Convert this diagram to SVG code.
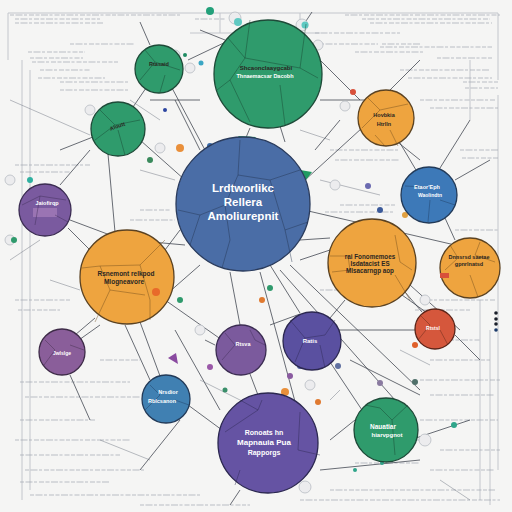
<svg xmlns="http://www.w3.org/2000/svg" width="512" height="512" viewBox="0 0 512 512">
<style>
.bgt{stroke:#a3a8b0;stroke-width:1.2;stroke-dasharray:4 1.5 7 1.5 3 2 5 1.5;fill:none;opacity:.7}
.frame{stroke:#c3c6cc;stroke-width:1;fill:none}
.edge{stroke:#3b404b;stroke-width:.9;fill:none;opacity:.85}
.edge2{stroke:#6e7480;stroke-width:.8;fill:none;opacity:.6}
.n{stroke-width:1.3}
.crack{fill:none;stroke-width:.8;opacity:.55}
.lbw{font-family:"Liberation Sans",Arial,sans-serif;fill:#ffffff;text-anchor:middle;font-weight:bold}
.lbd{font-family:"Liberation Sans",Arial,sans-serif;fill:#2a2622;text-anchor:middle;font-weight:bold}
.bub{fill:#ececee;stroke:#b8bcc3;stroke-width:.8}
</style>
<rect width="512" height="512" fill="#f5f5f4"/>
<g id="frame">
<path class="frame" d="M8 13H498V80M498 95V470M22 60V500M30 70V490M8 13V60M470 60V120M480 300V500M490 330V505M190 33H320M300 33V13M220 33V13"/>
</g>
<g id="bg-text">
<path class="bgt" d="M10 15H180M15 19H100M15 23H103M195 19H225M345 15H500M362 19H490M370 23H492M315 33H400M70 44H135M320 44H378M382 44H420M28 52H85M355 52H425M380 47H492M30 58H83M32 62H118M437 58H492M40 70H90M400 70H490M38 78H105M408 78H492M60 82H128M60 90H128M463 82H498M465 88H498M420 100H495M430 108H498M15 165H90M20 172H70M460 150H498M462 158H498M455 230H498M330 150H400M335 160H400M340 205H395M325 212H395M140 210H170M130 220H175M420 300H495M415 310H470M430 340H480M20 382H130M25 397H140M20 420H95M15 440H130M20 455H120M25 470H145M20 482H110M30 495H200M420 380H500M430 395H495M420 420H498M440 450H500M430 470H495M330 490H495M300 500H500M140 505H250M355 463H420M390 440H430M15 300H70M18 310H60M100 360H140M320 290H360M430 360H490"/>
</g>
<g id="connectors">
<path class="edge" d="M159 69L118 129M172 88L205 150M140 140L185 180M108 154L115 232M180 230L165 250M68 228L92 252M95 318L75 335M165 300L222 340M140 322L160 376M230 272L240 325M270 265L300 313M305 180L362 128M400 143L416 170M300 240L330 238M405 292L422 312M345 300L330 318M445 218L455 240M330 362L362 410M250 374L258 395M188 405L222 430M188 60L230 40M300 30L312 12M225 40L200 30M150 45L140 22M175 100L200 150M200 100L150 100M136 120L60 150M60 185L90 150M250 128L245 140M280 126L285 142M320 100L365 100M315 150L340 120M304 210L455 245M280 270L395 400M290 265L420 390M260 272L300 420M200 265L160 300M150 250L70 220M185 245L130 240M330 250L300 260M410 285L460 330M395 290L430 315M350 360L420 395M330 330L420 330M270 325L300 314M205 340L215 345M175 330L220 410M100 325L62 352M125 325L150 380M70 375L90 420M180 420L140 470M240 490L230 505M320 470L420 460M355 420L330 440M410 440L470 420M455 335L480 360M420 160L395 140M455 180L490 160M440 168L470 120M390 90L420 60M360 100L320 60"/>
<path class="edge2" d="M10 100L90 135M40 240L10 260M175 180L140 170M320 180L380 195M300 130L330 140M160 120L130 100M50 280L80 290M200 380L240 400M340 390L330 400M400 350L430 365M440 480L470 500M100 440L150 460"/>
</g>
<g id="decor">
<circle class="bub" cx="235" cy="18" r="6"/>
<circle class="bub" cx="302" cy="25" r="6"/>
<circle class="bub" cx="175" cy="55" r="5"/>
<circle class="bub" cx="318" cy="45" r="5"/>
<circle class="bub" cx="345" cy="106" r="5"/>
<circle class="bub" cx="190" cy="68" r="5"/>
<circle class="bub" cx="90" cy="110" r="5"/>
<circle class="bub" cx="10" cy="180" r="5"/>
<circle class="bub" cx="10" cy="240" r="5"/>
<circle class="bub" cx="160" cy="148" r="5"/>
<circle class="bub" cx="335" cy="185" r="5"/>
<circle class="bub" cx="425" cy="300" r="5"/>
<circle class="bub" cx="200" cy="330" r="5"/>
<circle class="bub" cx="305" cy="487" r="6"/>
<circle class="bub" cx="378" cy="300" r="5"/>
<circle class="bub" cx="425" cy="440" r="6"/>
<circle class="bub" cx="310" cy="385" r="5"/>
<circle cx="210" cy="11" r="4" fill="#23a07a"/>
<circle cx="238" cy="22" r="4" fill="#5fc9c2"/>
<circle cx="305" cy="25" r="3.5" fill="#5fc9c2"/>
<circle cx="185" cy="55" r="2" fill="#1e8c62"/>
<circle cx="201" cy="63" r="2.5" fill="#3aa6c4"/>
<circle cx="165" cy="110" r="2" fill="#2b44a0"/>
<circle cx="180" cy="148" r="4" fill="#e98f3a"/>
<path d="M238 136L256 137L248 148Z" fill="#1f9a62"/>
<path d="M300 170L312 172L306 180Z" fill="#1f9a62"/>
<circle cx="210" cy="146" r="3" fill="#3b6aa8"/>
<circle cx="353" cy="92" r="3" fill="#d8503a"/>
<circle cx="150" cy="160" r="3" fill="#3a8a5c"/>
<circle cx="368" cy="186" r="3" fill="#6b6ab0"/>
<circle cx="380" cy="210" r="3" fill="#3b5a9a"/>
<circle cx="405" cy="215" r="3" fill="#e0a040"/>
<circle cx="262" cy="300" r="3" fill="#e07a30"/>
<circle cx="270" cy="288" r="3" fill="#2f9a6c"/>
<circle cx="180" cy="300" r="3" fill="#2f9a6c"/>
<circle cx="30" cy="180" r="3" fill="#2fb0a0"/>
<circle cx="14" cy="240" r="3" fill="#2f9a6c"/>
<circle cx="225" cy="390" r="2.5" fill="#3a8f6a"/>
<circle cx="210" cy="367" r="3" fill="#9a58a8"/>
<path d="M168 358L176 353L178 364Z" fill="#8a4aa0"/>
<circle cx="290" cy="376" r="3" fill="#8a5aa0"/>
<circle cx="300" cy="366" r="3" fill="#4a5a9a"/>
<circle cx="285" cy="392" r="4" fill="#e98f3a"/>
<circle cx="318" cy="402" r="3" fill="#e07a30"/>
<circle cx="338" cy="366" r="3" fill="#6070a0"/>
<circle cx="380" cy="383" r="3" fill="#8a7aa0"/>
<circle cx="415" cy="382" r="3" fill="#50706a"/>
<circle cx="454" cy="425" r="3" fill="#2fa58a"/>
<circle cx="382" cy="463" r="2" fill="#2fa58a"/>
<circle cx="496" cy="313" r="1.8" fill="#1a1f2a"/>
<circle cx="496" cy="319" r="1.8" fill="#1a1f2a"/>
<circle cx="496" cy="324" r="1.8" fill="#1a1f2a"/>
<circle cx="496" cy="330" r="1.8" fill="#1a3a6a"/>
<circle cx="415" cy="345" r="3" fill="#e0602a"/>
<circle cx="300" cy="210" r="3" fill="#3b6aa8"/>
<circle cx="355" cy="470" r="2" fill="#2fa58a"/>
</g>
<g id="n-center">
<circle class="n" cx="243" cy="204" r="67" fill="#4a6da6" stroke="#2a3b5c"/>
<path class="crack" stroke="#22324f" d="M240 140L238 175L225 205L200 215L178 210M238 175L270 180L300 170M225 205L230 240L222 268M270 180L285 230L292 262M285 230L308 222M200 215L190 245"/>
<text class="lbw" x="243" y="192" font-size="11.5" font-weight="600">Lrdtworlikc</text>
<text class="lbw" x="243" y="206" font-size="11.5" font-weight="600">Rellera</text>
<text class="lbw" x="243" y="220" font-size="11.5" font-weight="600">Amoliurepnit</text>
</g>
<g id="n-green-top">
<circle class="n" cx="268" cy="74" r="54" fill="#2f9b6c" stroke="#1e4a38"/>
<path class="crack" stroke="#17402f" d="M228 38L245 58L230 80L217 90M245 58L300 68L318 78M300 68L306 24M245 58L250 20M280 85L285 125M230 80L250 122"/>
<text class="lbd" x="266" y="70" font-size="6">Shcaonclaaygcabi</text>
<text class="lbw" x="265" y="78" font-size="5.5">Thnaemacsar Dacobh</text>
</g>
<g id="n-green-small">
<circle class="n" cx="159" cy="69" r="24" fill="#2f9b6c" stroke="#1e4a38"/>
<path class="crack" stroke="#17402f" d="M145 50L155 62L140 80M155 62L180 70M165 75L160 92"/>
<text class="lbd" x="159" y="66" font-size="5.5">Rtasaid</text>
</g>
<g id="n-green-left">
<circle class="n" cx="118" cy="129" r="27" fill="#2f9b6c" stroke="#1e4a38"/>
<path class="crack" stroke="#17402f" d="M100 110L115 125L95 140M115 125L140 120M118 130L125 155"/>
<text class="lbd" x="118" y="128" font-size="5.5" transform="rotate(-20 118 128)">Aloutt</text>
</g>
<g id="n-orange-tr">
<circle class="n" cx="386" cy="118" r="28" fill="#eea43f" stroke="#5b4221"/>
<path class="crack" stroke="#6b4a1c" d="M368 98L380 110L362 128M380 110L408 104M390 130L398 146M375 135L385 146"/>
<text class="lbd" x="384" y="117" font-size="5.5">Hovbkia</text>
<text class="lbd" x="384" y="126" font-size="5.5">Htrlln</text>
</g>
<g id="n-blue-right">
<circle class="n" cx="429" cy="195" r="28" fill="#3d79b8" stroke="#223a58"/>
<path class="crack" stroke="#1f3c60" d="M405 186L425 187M440 200L455 205M430 200L428 222"/>
<text class="lbw" x="427" y="189" font-size="5.5">Etaor'Eph</text>
<text class="lbw" x="430" y="197" font-size="5">Waolindtn</text>
</g>
<g id="n-purple-left">
<circle class="n" cx="45" cy="210" r="26" fill="#7a5a9f" stroke="#3b2c52"/>
<rect x="33" y="208" width="24" height="9" fill="#a27ab8" opacity=".8"/>
<path class="crack" stroke="#3b2c52" d="M22 205L40 196L66 200M40 196L35 225M55 215L68 222"/>
<text class="lbw" x="47" y="205" font-size="5.5">Jaiofirqp</text>
</g>
<g id="n-orange-left">
<circle class="n" cx="127" cy="277" r="47" fill="#eea43f" stroke="#5b4221"/>
<path class="crack" stroke="#6b4a1c" d="M82 268L100 266L110 290L95 322M100 266L140 265L160 245L165 240M140 265L150 300L150 320M110 290L145 295"/>
<circle cx="156" cy="292" r="4" fill="#e86a2a"/>
<text class="lbd" x="126" y="276" font-size="6.5">Rsnemont relkpod</text>
<text class="lbd" x="124" y="284" font-size="6.5">Mlogneavore</text>
</g>
<g id="n-orange-right">
<circle class="n" cx="372" cy="263" r="44" fill="#eea43f" stroke="#5b4221"/>
<path class="crack" stroke="#6b4a1c" d="M330 256L348 256L350 270L332 272M395 235L400 262L412 270M395 275L410 300"/>
<text class="lbd" x="370" y="259" font-size="6.3">rai Fonomemoes</text>
<text class="lbd" x="370" y="266" font-size="6.3">Isdatacist ES</text>
<text class="lbd" x="370" y="273" font-size="6.3">Mlsacarngp aop</text>
</g>
<g id="n-orange-far">
<circle class="n" cx="470" cy="268" r="30" fill="#eea43f" stroke="#5b4221"/>
<path class="crack" stroke="#6b4a1c" d="M450 245L458 258L445 270M480 242L475 255L495 262M470 275L478 297"/>
<rect x="440" y="273" width="9" height="5" fill="#d8503a"/>
<text class="lbd" x="469" y="259" font-size="5.5">Dnnsrsd saetae</text>
<text class="lbd" x="469" y="266" font-size="5.5">gpnrlnatsd</text>
</g>
<g id="n-purple-small">
<circle class="n" cx="62" cy="352" r="23" fill="#8a5e9a" stroke="#3e2b48"/>
<path class="crack" stroke="#3e2b48" d="M45 340L55 350L44 365M70 345L84 350"/>
<text class="lbw" x="62" y="355" font-size="5">Jwlslge</text>
</g>
<g id="n-purple-mid">
<circle class="n" cx="241" cy="350" r="25" fill="#7b5a9d" stroke="#3b2c52"/>
<path class="crack" stroke="#3b2c52" d="M225 333L235 345L222 360M250 330L255 340L265 345"/>
<text class="lbw" x="243" y="346" font-size="5.5">Rtsva</text>
</g>
<g id="n-indigo">
<circle class="n" cx="312" cy="341" r="29" fill="#5a50a0" stroke="#2b2750"/>
<path class="crack" stroke="#2b2750" d="M290 320L305 338L295 362M305 338L325 335L335 320M320 345L325 368"/>
<text class="lbw" x="310" y="343" font-size="6">Ratis</text>
</g>
<g id="n-red">
<circle class="n" cx="435" cy="329" r="20" fill="#d5573c" stroke="#5a2418"/>
<path class="crack" stroke="#5a2418" d="M420 315L430 325L418 340M440 330L448 345"/>
<text class="lbw" x="433" y="330" font-size="5">Rtstsl</text>
</g>
<g id="n-blue-small">
<circle class="n" cx="166" cy="399" r="24" fill="#4080b2" stroke="#223a58"/>
<path class="crack" stroke="#1f3c60" d="M150 385L160 395L145 410M175 400L189 405"/>
<text class="lbw" x="168" y="394" font-size="5.5">Nrsdior</text>
<text class="lbw" x="162" y="403" font-size="5.5">Rblcsanon</text>
</g>
<g id="n-purple-big">
<circle class="n" cx="268" cy="443" r="50" fill="#6553a3" stroke="#2b2750"/>
<path class="crack" stroke="#2b2750" d="M240 400L258 410L225 432M300 412L298 450L320 455M258 410L262 400M240 470L235 485"/>
<text class="lbw" x="264" y="435" font-size="7" font-weight="600">Ronoats hn</text>
<text class="lbw" x="264" y="445" font-size="8" font-weight="600">Mapnauia Pua</text>
<text class="lbw" x="264" y="455" font-size="7" font-weight="600">Rapporgs</text>
</g>
<g id="n-green-br">
<circle class="n" cx="386" cy="430" r="32" fill="#2f9b6c" stroke="#1e4a38"/>
<path class="crack" stroke="#17402f" d="M365 405L380 408L392 420L408 405M392 420L395 455"/>
<text class="lbw" x="383" y="429" font-size="6.5">Nauatiar</text>
<text class="lbw" x="387" y="437" font-size="6">hiarvpgnot</text>
</g>
</svg>
